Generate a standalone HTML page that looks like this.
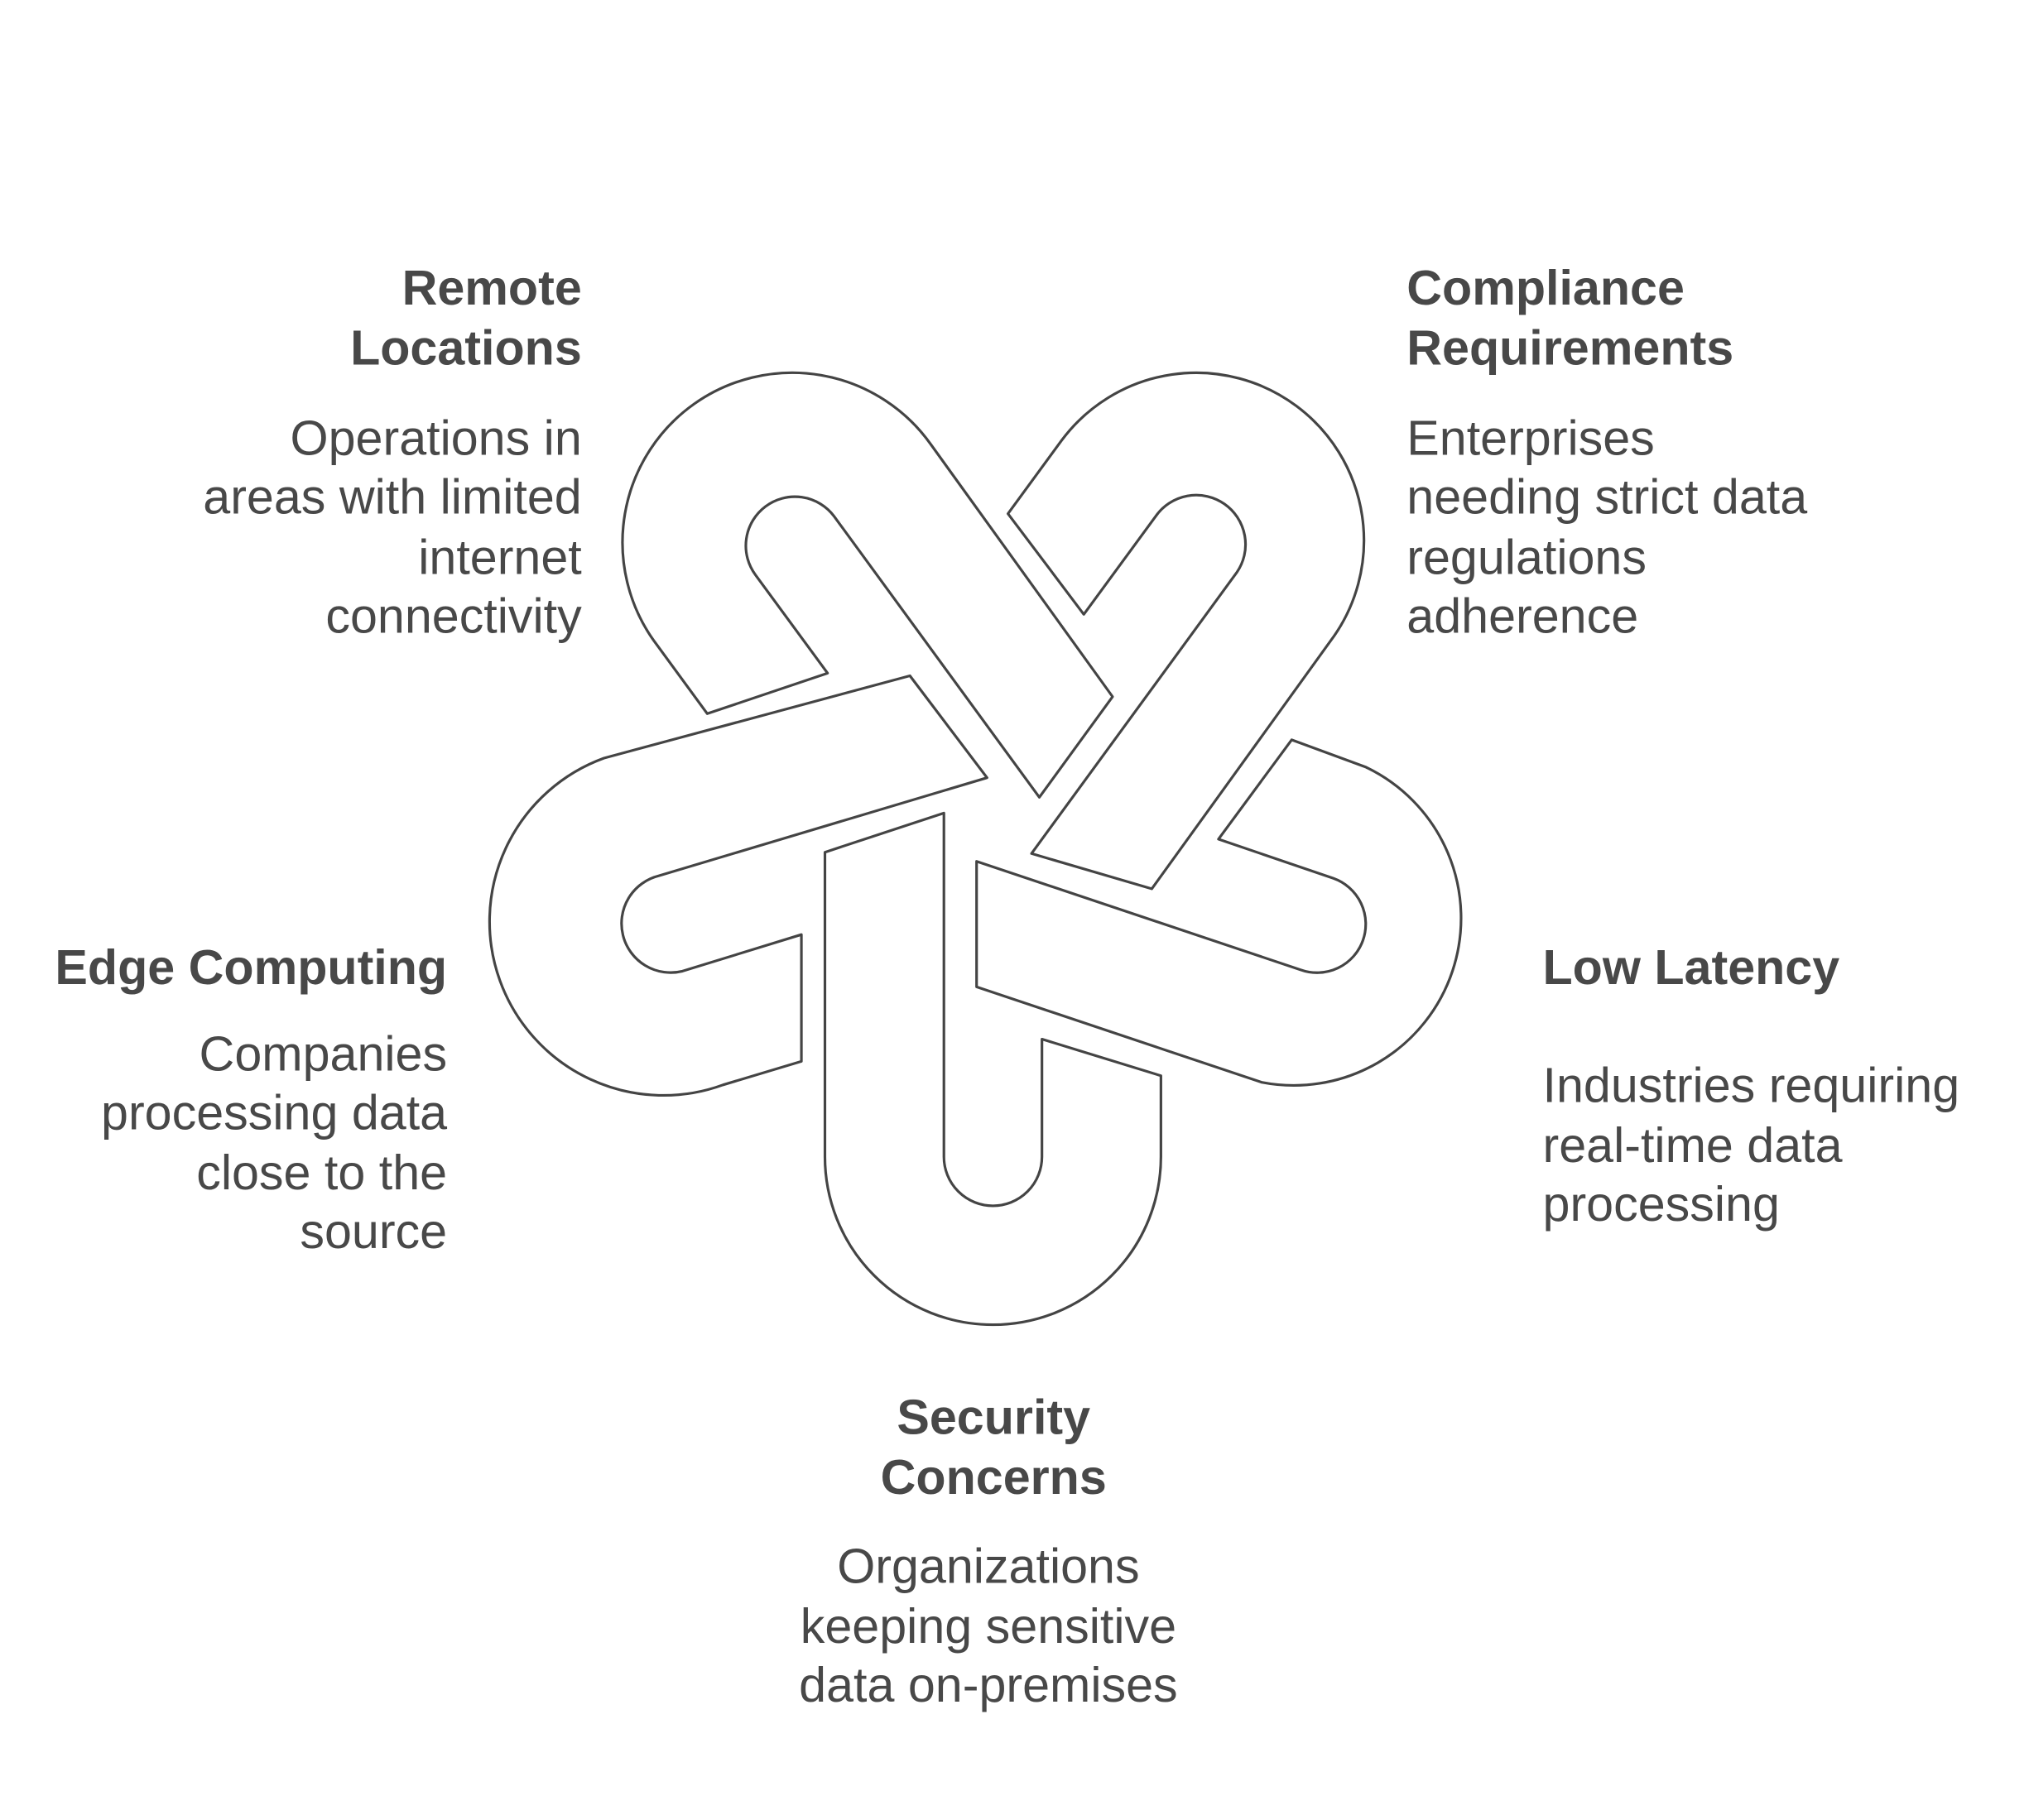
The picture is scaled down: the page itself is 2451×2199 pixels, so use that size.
<!DOCTYPE html>
<html><head><meta charset="utf-8"><style>
html,body{margin:0;padding:0;background:#fff;}
svg{display:block;}
text{font-family:"Liberation Sans",Arial,sans-serif;fill:#484848;}
.h{font-weight:bold;font-size:37.5px;}
.b{font-size:37.5px;}
</style></head><body>
<svg width="2451" height="2199" viewBox="0 0 1552 1392.4" preserveAspectRatio="none" xmlns="http://www.w3.org/2000/svg">
<g fill="#fff" stroke="#444" stroke-width="2" stroke-linejoin="round">
<path d="M541,546 L500,490 A128,128 0 0 1 712,340 L851,533 L795,610 L638,395 A37,37 0 0 0 578,440 L633,515 Z"/>
<path d="M771,393 L812,337 A128,128 0 0 1 1018,490 L881,680 L789,653 L946,438 A37,37 0 0 0 884,395 L829,470 Z"/>
<path d="M988,566 L1045,587 A128,128 0 0 1 965,828 L747,755 L747,659 L995,742 A37,37 0 0 0 1020,672 L932,642 Z"/>
<path d="M797,795 L888,823 L888,885 A128.5,128.5 0 0 1 631,885 L631,652 L722,622 L722,885 A37.5,37.5 0 0 0 797,885 Z"/>
<path d="M696,517 L755,595 L504,670 A37,37 0 0 0 522,743 L613,715 L613,812 L553,830 A128,128 0 0 1 462,580 Z"/>
</g>
<g text-anchor="end">
<text class="h" x="445" y="233">Remote</text>
<text class="h" x="445" y="279">Locations</text>
<text class="b" x="445" y="348">Operations in</text>
<text class="b" x="445" y="393">areas with limited</text>
<text class="b" x="445" y="439">internet</text>
<text class="b" x="445" y="484">connectivity</text>
<text class="h" x="342" y="753">Edge Computing</text>
<text class="b" x="342" y="819">Companies</text>
<text class="b" x="342" y="864">processing data</text>
<text class="b" x="342" y="910">close to the</text>
<text class="b" x="342" y="955">source</text>
</g>
<g>
<text class="h" x="1076" y="233">Compliance</text>
<text class="h" x="1076" y="279">Requirements</text>
<text class="b" x="1076" y="348">Enterprises</text>
<text class="b" x="1076" y="393">needing strict data</text>
<text class="b" x="1076" y="439">regulations</text>
<text class="b" x="1076" y="484">adherence</text>
<text class="h" x="1180" y="753">Low Latency</text>
<text class="b" x="1180" y="843">Industries requiring</text>
<text class="b" x="1180" y="889">real-time data</text>
<text class="b" x="1180" y="934">processing</text>
</g>
<g text-anchor="middle">
<text class="h" x="760" y="1097">Security</text>
<text class="h" x="760" y="1143">Concerns</text>
<text class="b" x="756" y="1211">Organizations</text>
<text class="b" x="756" y="1257">keeping sensitive</text>
<text class="b" x="756" y="1302">data on-premises</text>
</g>
</svg>
</body></html>
